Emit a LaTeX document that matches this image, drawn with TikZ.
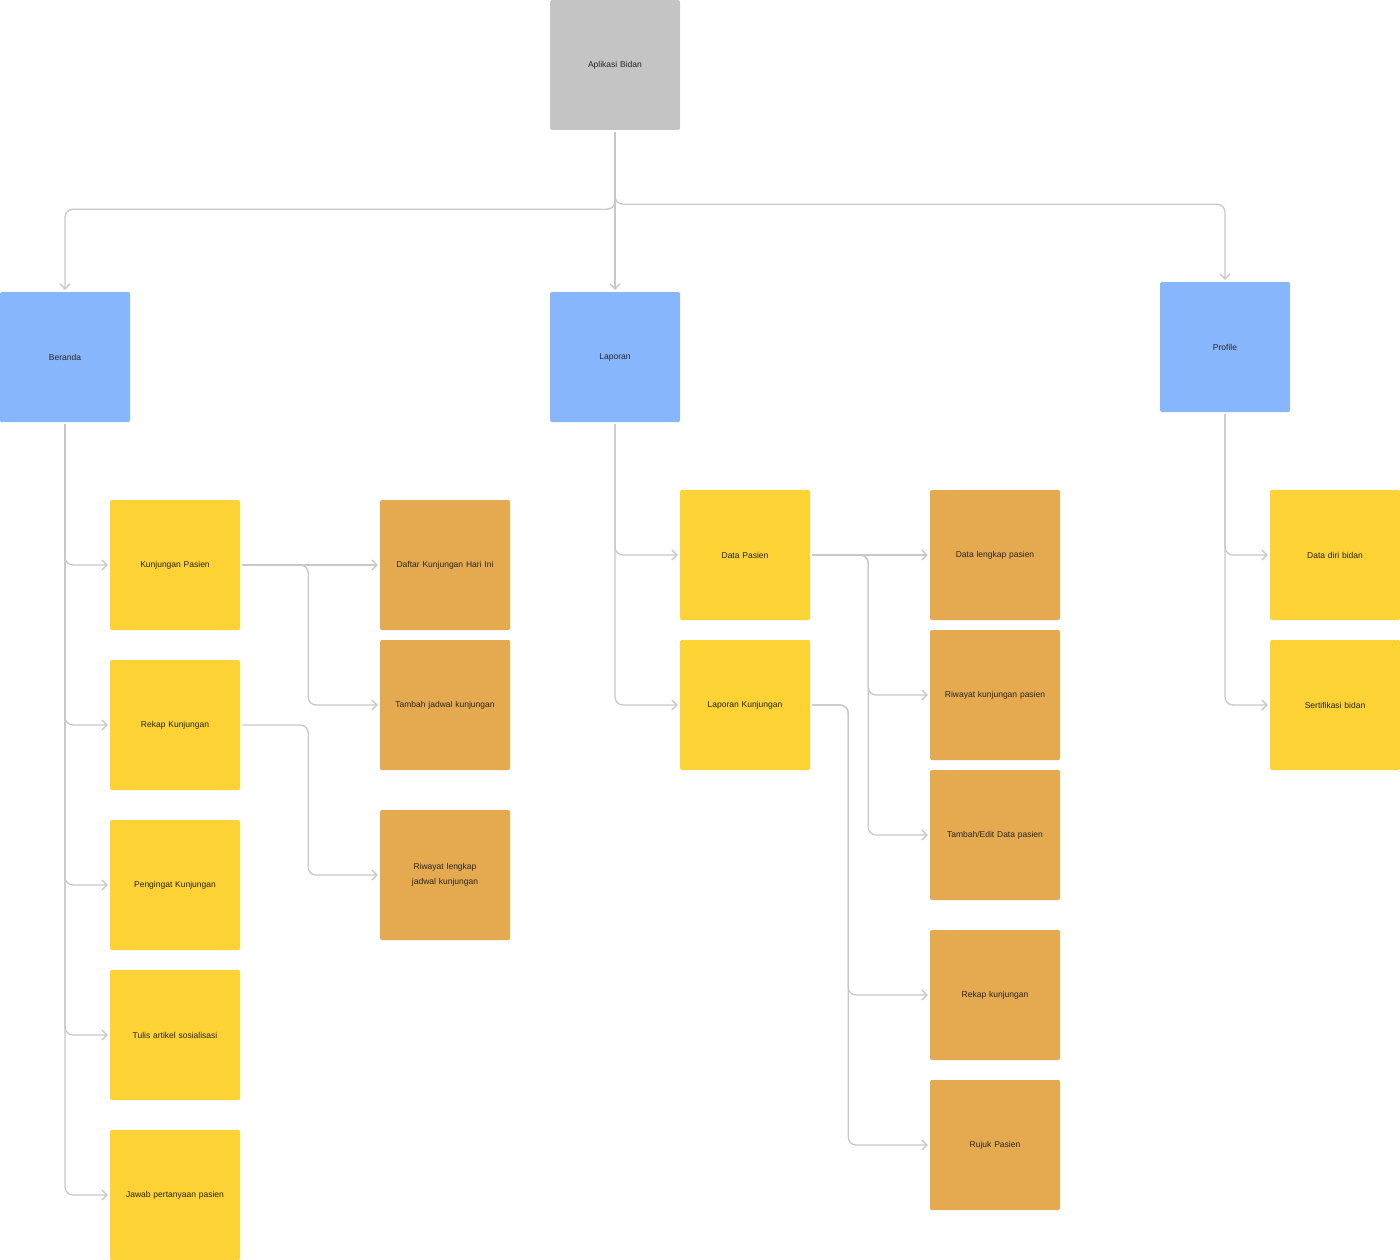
\documentclass[tikz,border=0pt]{standalone}
\usepackage{fontspec}
\setmainfont{Liberation Sans}
\usetikzlibrary{arrows.meta}
\definecolor{cgray}{HTML}{C4C4C4}
\definecolor{cblue}{HTML}{88B6FD}
\definecolor{cyel}{HTML}{FDD235}
\definecolor{corg}{HTML}{E5AA50}
\definecolor{cline}{HTML}{C8C8C8}
\begin{document}
\begin{tikzpicture}[x=1pt,y=-1pt,
 box/.style={minimum width=130pt,minimum height=130pt,text width=112pt,align=center,inner sep=0pt,rounded corners=1.5pt,font=\fontsize{8.5}{15}\selectfont,text=black!85},
 g/.style={box,fill=cgray}, b/.style={box,fill=cblue}, yl/.style={box,fill=cyel}, o/.style={box,fill=corg},
 conn/.style={draw=cline,line width=1.3pt,rounded corners=8pt,-{Straight Barb[length=5pt,width=10pt]},shorten >=2pt,shorten <=2pt}]
\useasboundingbox (0,0) rectangle (1400,1260);
\node[g] (app) at (615,65) {Aplikasi Bidan};
\node[b] (ber) at (65,357) {Beranda};
\node[b] (lap) at (615,357) {Laporan};
\node[b] (pro) at (1225,347) {Profile};
\node[yl] (kp) at (175,565) {Kunjungan Pasien};
\node[yl] (rk) at (175,725) {Rekap Kunjungan};
\node[yl] (pk) at (175,885) {Pengingat Kunjungan};
\node[yl] (ta) at (175,1035) {Tulis artikel sosialisasi};
\node[yl] (jp) at (175,1195) {Jawab pertanyaan pasien};
\node[o] (dk) at (445,565) {Daftar Kunjungan Hari Ini};
\node[o] (tj) at (445,705) {Tambah jadwal kunjungan};
\node[o] (rl) at (445,875) {Riwayat lengkap jadwal kunjungan};
\node[yl] (dp) at (745,555) {Data Pasien};
\node[yl] (lk) at (745,705) {Laporan Kunjungan};
\node[o] (dl) at (995,555) {Data lengkap pasien};
\node[o] (rw) at (995,695) {Riwayat kunjungan pasien};
\node[o] (te) at (995,835) {Tambah/Edit Data pasien};
\node[o] (rek) at (995,995) {Rekap kunjungan};
\node[o] (rp) at (995,1145) {Rujuk Pasien};
\node[yl] (dd) at (1335,555) {Data diri bidan};
\node[yl] (sb) at (1335,705) {Sertifikasi bidan};
\draw[conn] (app.south) -- (lap.north);
\draw[conn] (app.south) -- ++(0,79) -| (ber.north);
\draw[conn] (app.south) -- ++(0,74) -| (pro.north);
\foreach \t in {kp,rk,pk,ta,jp} \draw[conn] (ber.south) |- (\t.west);
\draw[conn] (kp.east) -- (dk.west);
\draw[conn] (kp.east) -- ++(68,0) |- (tj.west);
\draw[conn] (rk.east) -- ++(68,0) |- (rl.west);
\foreach \t in {dp,lk} \draw[conn] (lap.south) |- (\t.west);
\draw[conn] (dp.east) -- (dl.west);
\draw[conn] (dp.east) -- ++(58,0) |- (rw.west);
\draw[conn] (dp.east) -- ++(58,0) |- (te.west);
\draw[conn] (lk.east) -- ++(38,0) |- (rek.west);
\draw[conn] (lk.east) -- ++(38,0) |- (rp.west);
\foreach \t in {dd,sb} \draw[conn] (pro.south) |- (\t.west);
\end{tikzpicture}
\end{document}
